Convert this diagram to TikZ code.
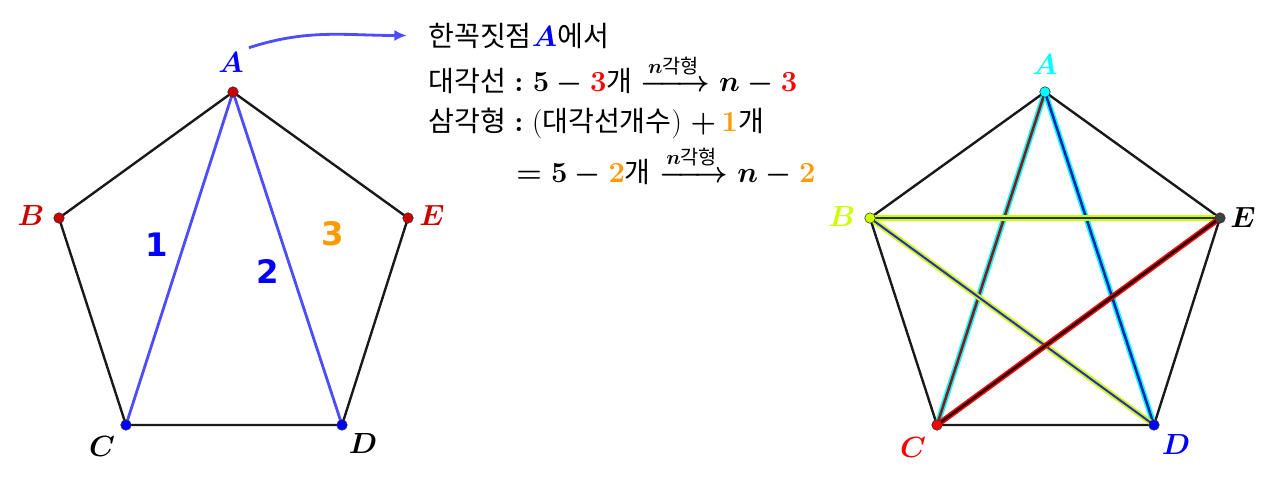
\documentclass[tikz,border=0pt]{standalone}
\usepackage{amsmath}
\usepackage{bm}
\usepackage{fontspec}
\newfontfamily\kr{Noto Sans CJK KR}
\newfontfamily\numfont{DejaVu Sans}
\usetikzlibrary{arrows.meta}
\definecolor{lblue}{HTML}{0000FF}
\definecolor{diagblue}{HTML}{4D4DFF}
\definecolor{lred}{HTML}{CC0000}
\definecolor{hred}{HTML}{FF0000}
\definecolor{horange}{HTML}{FF9900}
\definecolor{hlime}{HTML}{CCFF00}
\definecolor{hcyan}{HTML}{00FFFF}
\definecolor{hgray}{HTML}{404040}

\begin{document}
\begin{tikzpicture}[x=0.025cm,y=-0.025cm,
    dot/.style={circle,draw=black!80,line width=0.4pt,inner sep=0pt,minimum size=7.5pt},
    side/.style={black!90,line width=1.7pt},
    diag/.style={diagblue,line width=2pt},
    lbl/.style={font=\fontsize{20}{22}\selectfont,inner sep=0pt},
    num/.style={font=\numfont\bfseries\fontsize{23}{25}\selectfont,inner sep=0pt},
    txt/.style={font=\fontsize{20}{24}\selectfont,anchor=base west,inner sep=0pt}]
    \useasboundingbox (0,0) rectangle (1272,476);

    \coordinate (A) at (233,92);
    \coordinate (B) at (59,218);
    \coordinate (C) at (126,425);
    \coordinate (D) at (342,425);
    \coordinate (E) at (408,218);
    \draw[side] (A) -- (B) -- (C) -- (D) -- (E) -- cycle;
    \draw[diag] (A) -- (C);
    \draw[diag] (A) -- (D);
    \node[dot,fill=lred] (dA) at (A) {};
    \node[dot,fill=lred] (dB) at (B) {};
    \node[dot,fill=lblue] (dC) at (C) {};
    \node[dot,fill=lblue] (dD) at (D) {};
    \node[dot,fill=lred] (dE) at (E) {};
    \node[lbl,text=lblue] (lA) at (231,62) {$\bm{A}$};
    \node[lbl,text=lred] (lB) at (31,215) {$\bm{B}$};
    \node[lbl] (lC) at (102,446) {$\bm{C}$};
    \node[lbl] (lD) at (363,443) {$\bm{D}$};
    \node[lbl,text=lred] (lE) at (432,215) {$\bm{E}$};
    \node[num,text=lblue] (n1) at (157,245) {1};
    \node[num,text=lblue] (n2) at (268,271) {2};
    \node[num,text=horange] (n3) at (333,234) {3};

    \node[txt] (t1) at (428,46) {{\kr 한꼭짓점}{\boldmath$\color{lblue}A$}{\kr 에서}};
    \node[txt] (t2) at (428,91) {{\kr 대각선} {\boldmath$:5-{\color{hred}3}$}{\kr 개} {\boldmath$\xrightarrow{n\text{\kr 각형}} n-{\color{hred}3}$}};
    \node[txt] (t3) at (428,131) {{\kr 삼각형} {\boldmath$:$} $(\text{\kr 대각선개수})$ {\boldmath$+\,{\color{horange}1}$}{\kr 개}};
    \node[txt] (t4) at (516,182) {{\boldmath$=5-{\color{horange}2}$}{\kr 개} {\boldmath$\xrightarrow{n\text{\kr 각형}} n-{\color{horange}2}$}};
    \draw[diagblue,line width=2pt,-{Latex[length=9pt,width=8pt]}] ([shift={(5,-4)}]lA.north east) to[out=18,in=180] ([xshift=-15]t1.west);

    \coordinate (A2) at (1045,92);
    \coordinate (B2) at (870,218);
    \coordinate (C2) at (937,425);
    \coordinate (D2) at (1154,425);
    \coordinate (E2) at (1220,218);
    \draw[side] (A2) -- (B2) -- (C2) -- (D2) -- (E2) -- cycle;
    \draw[hcyan,line width=4pt] (A2) -- (C2);
    \draw[black!50!red!90,line width=1.8pt] (A2) -- (C2);
    \draw[hcyan,line width=4pt] (A2) -- (D2);
    \draw[blue!80!cyan!70!black,line width=1.8pt] (A2) -- (D2);
    \draw[hlime,line width=4pt] (B2) -- (E2);
    \draw[black!80!hlime,line width=1.8pt] (B2) -- (E2);
    \draw[hlime,line width=4pt] (B2) -- (D2);
    \draw[blue!70!gray,line width=1.4pt] (B2) -- (D2);
    \draw[hred,line width=4pt] (C2) -- (E2);
    \draw[black!85!red,line width=1.8pt] (C2) -- (E2);
    \node[dot,fill=hcyan] (eA) at (A2) {};
    \node[dot,fill=hlime] (eB) at (B2) {};
    \node[dot,fill=hred] (eC) at (C2) {};
    \node[dot,fill=lblue] (eD) at (D2) {};
    \node[dot,fill=hgray] (eE) at (E2) {};
    \node[lbl,text=hcyan] (mA) at (1045,64) {$\bm{A}$};
    \node[lbl,text=hlime] (mB) at (842,216) {$\bm{B}$};
    \node[lbl,text=hred] (mC) at (913,447) {$\bm{C}$};
    \node[lbl,text=lblue] (mD) at (1176,444) {$\bm{D}$};
    \node[lbl] (mE) at (1243,217) {$\bm{E}$};
\end{tikzpicture}
\end{document}
